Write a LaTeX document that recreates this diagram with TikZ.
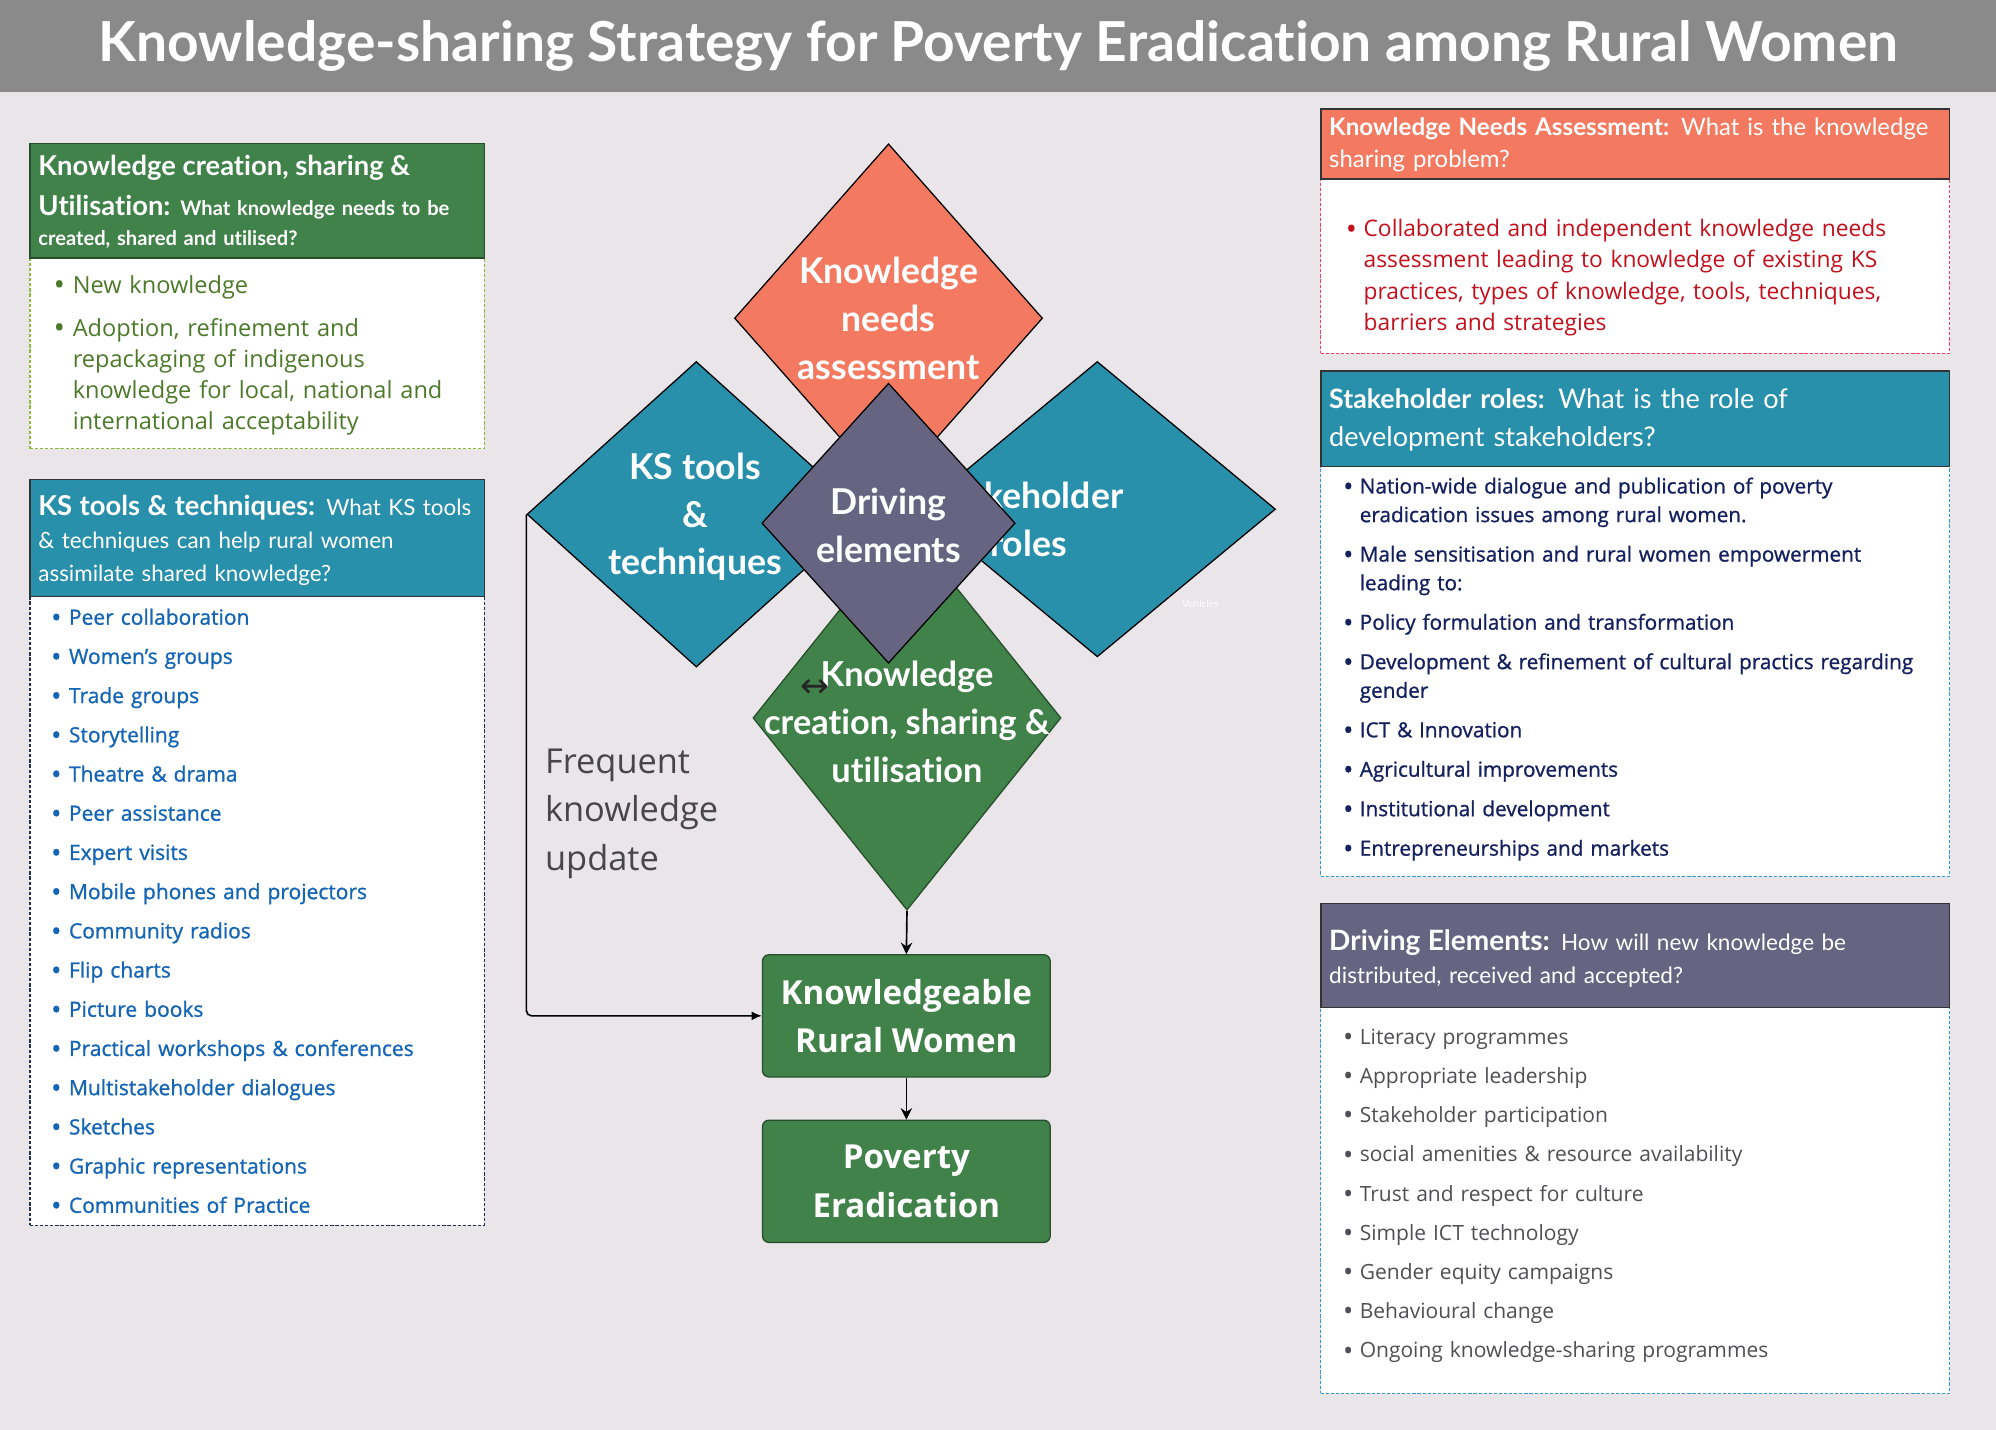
\documentclass[tikz,border=0pt]{standalone}
\usepackage{fontspec}
\usepackage{graphicx}
\setmainfont{Open Sans}
\newfontfamily\latofont{Lato}[Ligatures=NoCommon]
\newfontfamily\semifont{Open Sans}[FakeBold=1]
\newfontfamily\symfont{DejaVu Sans}
\usetikzlibrary{shapes.geometric,arrows.meta}

\definecolor{bgpaper}{HTML}{E9E5E9}
\definecolor{titlegrey}{HTML}{8A8A8A}
\definecolor{ksgreen}{HTML}{41824A}
\definecolor{ksteal}{HTML}{2990AB}
\definecolor{kssalmon}{HTML}{F37A60}
\definecolor{kspurple}{HTML}{666480}
\definecolor{greentext}{HTML}{4C7A2A}
\definecolor{greenline}{HTML}{8DBB3C}
\definecolor{bluetext}{HTML}{1465B5}
\definecolor{navyline}{HTML}{1F3050}
\definecolor{redtext}{HTML}{C3101C}
\definecolor{redline}{HTML}{EE3F6A}
\definecolor{navytext}{HTML}{14215E}
\definecolor{skyline}{HTML}{2E9AD6}
\definecolor{greytext}{HTML}{4F4F55}

\newcommand{\bul}[1][13pt]{\makebox[#1][l]{\raisebox{-0.11em}{\scalebox{1.3}{•}}}}
\newcommand{\ind}[1][13pt]{\hspace*{#1}}

\begin{document}
\begin{tikzpicture}[x=1pt, y=-1pt,
  boxhead/.style={draw=black!80, line width=1.2pt, anchor=north west, inner sep=0pt},
  boxbody/.style={fill=white, line width=1pt, dash pattern=on 2.5pt off 1.5pt, anchor=north west, inner sep=0pt},
  headtext/.style={anchor=north west, inner sep=0pt, text width=480pt, align=left, text=white},
  listtext/.style={anchor=north west, inner sep=0pt, text width=480pt, align=left},
  diam/.style={diamond, draw=black, line width=1pt, inner sep=0pt},
  diamtext/.style={text=white, align=center, font=\latofont\bfseries\fontsize{28}{37.5}\selectfont},
  goal/.style={draw=ksgreen!60!black, fill=ksgreen, line width=1pt, rounded corners=5pt, minimum width=226pt, minimum height=96pt, text=white, align=center, font=\bfseries\fontsize{26}{38}\selectfont},
  flow/.style={line width=1.3pt, -{Stealth[length=9pt,width=9pt,inset=3pt]}},
]
\fill[bgpaper] (0,0) rectangle (1568,1123);
\useasboundingbox (0,0) rectangle (1568,1123);

\node[fill=titlegrey, minimum width=1568pt, minimum height=72pt, inner sep=0pt, anchor=north west, text=white, font=\latofont\bfseries\fontsize{43.3}{50}\selectfont] (title) at (0,0) {Knowledge-sharing Strategy for Poverty Eradication among Rural Women};

% left column
\node[boxbody, draw=greenline, minimum width=357pt, minimum height=150pt] (kcsBody) at (23,202) {};
\node[boxhead, draw=ksgreen!60!black, fill=ksgreen, minimum width=357pt, minimum height=90pt] (kcsHead) at (23,112) {};
\node[headtext, font=\latofont\bfseries\fontsize{15.8}{24}\selectfont] (kcsHeadText) at (30,122) {{\fontsize{21.5}{24}\selectfont Knowledge creation, sharing \&}\\[7pt]{\fontsize{21.5}{24}\selectfont Utilisation:} What knowledge needs to be\\created, shared and utilised?};
\node[listtext, text=greentext, font=\fontsize{18.5}{24.5}\selectfont] (kcsList) at (42,216) {\bul[15pt]New knowledge\\[9.5pt]\bul[15pt]Adoption, refinement and\\\ind[15pt]repackaging of indigenous\\\ind[15pt]knowledge for local, national and\\\ind[15pt]international acceptability};

\node[boxbody, draw=navyline, minimum width=357pt, minimum height=494pt] (ksBody) at (23,468) {};
\node[boxhead, fill=ksteal, minimum width=357pt, minimum height=92pt] (ksHead) at (23,376) {};
\node[headtext, font=\latofont\fontsize{17.6}{26}\selectfont] (ksHeadText) at (30,389) {{\bfseries\fontsize{21.5}{26}\selectfont KS tools \& techniques:} What KS tools\\\& techniques can help rural women\\assimilate shared knowledge?};
\node[listtext, text=bluetext, font=\semifont\fontsize{16.5}{30.8}\selectfont] (ksList) at (40,478) {\bul[14pt]Peer collaboration\\\bul[14pt]Women’s groups\\\bul[14pt]Trade groups\\\bul[14pt]Storytelling\\\bul[14pt]Theatre \& drama\\\bul[14pt]Peer assistance\\\bul[14pt]Expert visits\\\bul[14pt]Mobile phones and projectors\\\bul[14pt]Community radios\\\bul[14pt]Flip charts\\\bul[14pt]Picture books\\\bul[14pt]Practical workshops \& conferences\\\bul[14pt]Multistakeholder dialogues\\\bul[14pt]Sketches\\\bul[14pt]Graphic representations\\\bul[14pt]Communities of Practice};

% right column
\node[boxbody, draw=redline, minimum width=494pt, minimum height=137pt] (knaBody) at (1037,140) {};
\node[boxhead, fill=kssalmon, minimum width=494pt, minimum height=55pt] (knaHead) at (1037,85) {};
\node[headtext, font=\latofont\fontsize{18.8}{25}\selectfont] (knaHeadText) at (1044,92) {{\bfseries\fontsize{19}{25}\selectfont Knowledge Needs Assessment:} What is the knowledge\\sharing problem?};
\node[listtext, text=redtext, font=\fontsize{17.9}{24.7}\selectfont] (knaList) at (1057,172) {\bul[14pt]Collaborated and independent knowledge needs\\\ind[14pt]assessment leading to knowledge of existing KS\\\ind[14pt]practices, types of knowledge, tools, techniques,\\\ind[14pt]barriers and strategies};

\node[boxbody, draw=skyline, minimum width=494pt, minimum height=322pt] (srBody) at (1037,366) {};
\node[boxhead, fill=ksteal, minimum width=494pt, minimum height=75pt] (srHead) at (1037,291) {};
\node[headtext, font=\latofont\fontsize{21.3}{30}\selectfont] (srHeadText) at (1044,305) {{\bfseries\fontsize{21}{30}\selectfont Stakeholder roles:} What is the role of\\development stakeholders?};
\node[listtext, text=navytext, font=\semifont\fontsize{16.3}{22.5}\selectfont] (srList) at (1055,375) {\bul[13pt]Nation-wide dialogue and publication of poverty\\\ind[13pt]eradication issues among rural women.\\[8.5pt]\bul[13pt]Male sensitisation and rural women empowerment\\\ind[13pt]leading to:\\[8.5pt]\bul[13pt]Policy formulation and transformation\\[8.5pt]\bul[13pt]Development \& refinement of cultural practics regarding\\\ind[13pt]gender\\[8.5pt]\bul[13pt]ICT \& Innovation\\[8.5pt]\bul[13pt]Agricultural improvements\\[8.5pt]\bul[13pt]Institutional development\\[8.5pt]\bul[13pt]Entrepreneurships and markets};

\node[boxbody, draw=skyline, minimum width=494pt, minimum height=303pt] (deBody) at (1037,791) {};
\node[boxhead, fill=kspurple, minimum width=494pt, minimum height=82pt] (deHead) at (1037,709) {};
\node[headtext, font=\latofont\fontsize{17.7}{26}\selectfont] (deHeadText) at (1044,730) {{\bfseries\fontsize{22}{26}\selectfont Driving Elements:} How will new knowledge be\\distributed, received and accepted?};
\node[listtext, text=greytext, font=\fontsize{16.5}{30.8}\selectfont] (deList) at (1055,808) {\bul[13pt]Literacy programmes\\\bul[13pt]Appropriate leadership\\\bul[13pt]Stakeholder participation\\\bul[13pt]social amenities \& resource availability\\\bul[13pt]Trust and respect for culture\\\bul[13pt]Simple ICT technology\\\bul[13pt]Gender equity campaigns\\\bul[13pt]Behavioural change\\\bul[13pt]Ongoing knowledge-sharing programmes};

% centre diamonds
\node[diam, fill=kssalmon, minimum width=242pt, minimum height=274pt] (knaDiam) at (698,250) {};
\node[diamtext] (knaDiamText) at (knaDiam.center) {Knowledge\\needs\\assessment};
\node[diam, fill=ksteal, minimum width=266pt, minimum height=240pt] (ksDiam) at (547,404) {};
\node[diamtext] (ksDiamText) at (546,406) {KS tools\\\&\\techniques};
\node[diam, fill=ksteal, minimum width=280pt, minimum height=232pt] (srDiam) at (862,400) {};
\node[diamtext] (srDiamText) at (808,408) {Stakeholder\\roles};
\node[text=white, font=\latofont\fontsize{8}{9}\selectfont] (vehicles) at (943,474) {Vehicles};
\node[diam, fill=ksgreen, draw=ksgreen!60!black, minimum width=242pt, minimum height=302pt] (kcsDiam) at (712.5,564) {};
\node[diamtext, font=\latofont\bfseries\fontsize{27}{37.5}\selectfont] (kcsDiamText) at (712.5,567) {Knowledge\\creation, sharing \&\\utilisation};
\node[diam, fill=kspurple, minimum width=199pt, minimum height=220pt] (deDiam) at (698,411) {};
\node[diamtext] (deDiamText) at (698,413) {Driving\\elements};
\node[text=black!85, font=\symfont\fontsize{27}{27}\selectfont] (resizeMark) at (640,541) {↔};

% outcome boxes
\node[goal] (krBox) at (712,798) {Knowledgeable\\Rural Women};
\node[goal] (peBox) at (712,928) {Poverty\\Eradication};
\node[anchor=north west, inner sep=0pt, align=left, text=black!72, font=\fontsize{27}{38}\selectfont] (freqText) at (428,588) {Frequent\\knowledge\\update};

\draw[flow] (kcsDiam.south) -- (krBox.north);
\draw[flow] (krBox.south) -- (peBox.north);
\draw[line width=1.3pt, rounded corners=4pt, -{Latex[length=8pt,width=7pt]}] (ksDiam.west) -- (ksDiam.west |- krBox.west) -- (krBox.west);
\end{tikzpicture}
\end{document}
